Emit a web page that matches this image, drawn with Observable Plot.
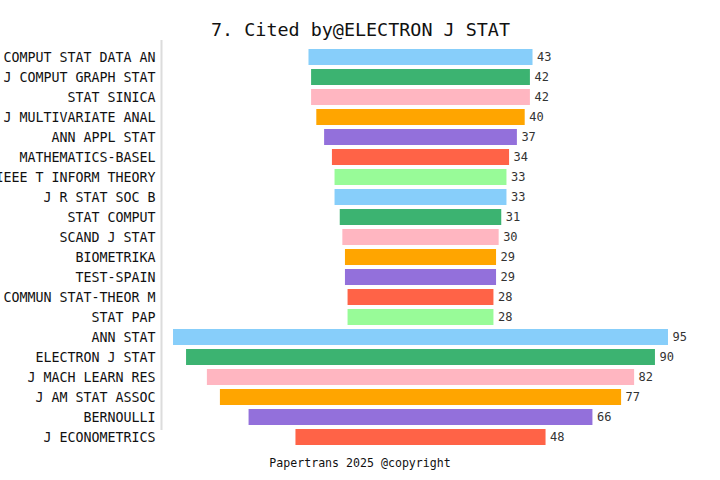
<!DOCTYPE html>
<html>
<head>
<meta charset="utf-8">
<script src="https://cdn.jsdelivr.net/npm/d3@7"></script>
<script src="https://cdn.jsdelivr.net/npm/@observablehq/plot@0.6"></script>
<style>
  body { margin: 0; background: #fff; }
  #chart svg { display: block; }
</style>
</head>
<body>
<div id="chart"></div>
<script>
const journals = ["COMPUT STAT DATA AN","J COMPUT GRAPH STAT","STAT SINICA","J MULTIVARIATE ANAL","ANN APPL STAT","MATHEMATICS-BASEL","IEEE T INFORM THEORY","J R STAT SOC B","STAT COMPUT","SCAND J STAT","BIOMETRIKA","TEST-SPAIN","COMMUN STAT-THEOR M","STAT PAP","ANN STAT","ELECTRON J STAT","J MACH LEARN RES","J AM STAT ASSOC","BERNOULLI","J ECONOMETRICS"];
const counts = [43,42,42,40,37,34,33,33,31,30,29,29,28,28,95,90,82,77,66,48];
const palette = ["#87CEFA","#3CB371","#FFB6C1","#FFA500","#9370DB","#FF6347","#98FB98"];
const titleText = "7. Cited by@ELECTRON J STAT";
const captionText = "Papertrans 2025 @copyright";

const data = journals.map((j, i) => ({journal: j, value: counts[i], color: palette[i % palette.length]}));
const font = "'DejaVu Sans Mono', monospace";

const chart = Plot.plot({
  width: 720,
  height: 480,
  marginLeft: 160,
  marginRight: 39,
  marginTop: 45,
  marginBottom: 31,
  style: {fontFamily: font, background: "#fff"},
  x: {domain: [-50, 50], axis: null},
  y: {domain: journals, padding: 0.2, round: false, label: null},
  marks: [
    Plot.axisY({tickSize: 0, tickPadding: 5, fontSize: 13.3, fill: "#111", label: null}),
    Plot.ruleX([-50], {stroke: "#dcdcdc", strokeWidth: 2, dx: 1, insetTop: -5, insetBottom: 19}),
    Plot.barX(data, {y: "journal", x1: d => -d.value / 2, x2: d => d.value / 2, fill: "color"}),
    Plot.text(data, {y: "journal", x: d => d.value / 2, text: d => String(d.value), textAnchor: "start", dx: 4, fontSize: 12, fill: "#333"}),
    Plot.text([titleText], {frameAnchor: "top", dx: -60.5, dy: -23, fontSize: 18.4, fill: "#111", text: d => d}),
    Plot.text([captionText], {frameAnchor: "bottom", dx: -61, dy: 17, fontSize: 11.6, fill: "#111", text: d => d})
  ]
});
document.getElementById("chart").append(chart);
</script>
</body>
</html>
